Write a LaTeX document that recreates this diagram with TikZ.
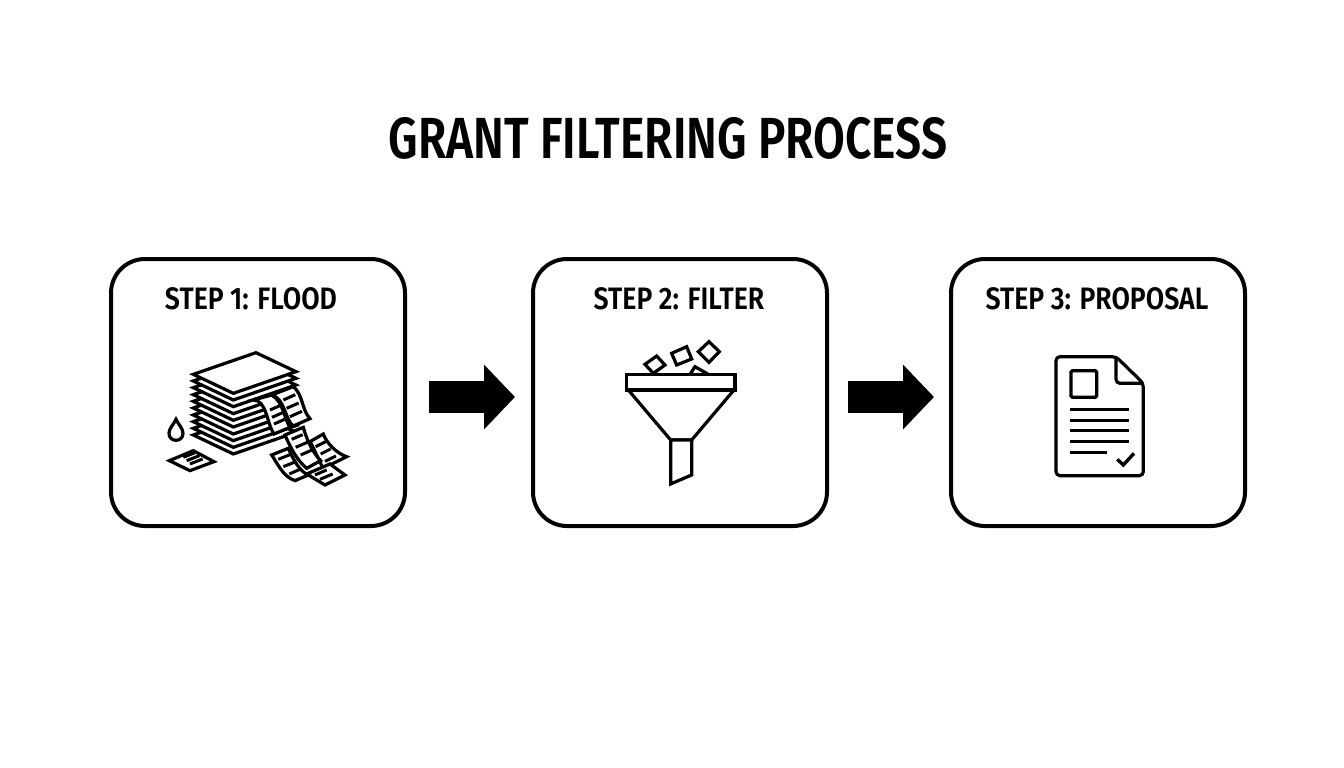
\documentclass[tikz,border=0pt]{standalone}
\usepackage{fontspec}
\setmainfont[FakeStretch=0.795]{Fira Sans SemiBold}
\newfontfamily\labelfont[FakeStretch=0.86]{Fira Sans SemiBold}
\usetikzlibrary{arrows.meta}
\tikzset{
  stepcard/.style={draw=black,line width=4pt,fill=white,rounded corners=34pt,minimum width=294pt,minimum height=267pt,inner sep=0pt,outer sep=2pt},
  steplabel/.style={font=\labelfont\fontsize{31}{31}\selectfont,text=black,inner sep=0pt,anchor=center},
  flowarrow/.style={draw=black,line width=32pt,-{Triangle[length=31pt,width=63pt]}},
  icon/.style={draw=black,line width=3.2pt,line join=miter,fill=white},
  ink/.style={draw=black,line width=3pt,line cap=butt},
}
\begin{document}
\begin{tikzpicture}[x=1pt,y=-1pt]
\useasboundingbox[fill=white] (0,0) rectangle (1344,768);
\node[font=\fontsize{58}{58}\selectfont,text=black,inner sep=0pt] (title) at (668,138) {GRANT FILTERING PROCESS};
\node[stepcard] (s1) at (258,392.5) {};
\node[stepcard] (s2) at (680,392.5) {};
\node[stepcard] (s3) at (1098,392.5) {};
\node[steplabel] (l1) at (251,299) {STEP 1: FLOOD};
\node[steplabel] (l2) at (679,299) {STEP 2: FILTER};
\node[steplabel] (l3) at (1097,299) {STEP 3: PROPOSAL};
\draw[flowarrow,shorten <=22pt,shorten >=16pt] ([yshift=-4.5pt]s1.east) -- ([yshift=-4.5pt]s2.west);
\draw[flowarrow,shorten <=19pt,shorten >=15pt] ([yshift=-4.5pt]s2.east) -- ([yshift=-4.5pt]s3.west);
% Flood icon
\begin{scope}[shift={(150,340)},x=0.3333pt,y=-0.3333pt]
 \foreach \d in {182,162,142,122,101,81,61,40,20}{
   \draw[icon] (130,103+\d) -- (318,38+\d) -- (438,95+\d) -- (250,160+\d) -- cycle;
 }
 \draw[icon] (130,103) -- (318,38) -- (438,95) -- (250,160) -- cycle;
 % curled sheets
 \draw[icon] (310,180) .. controls (350,180) and (350,250) .. (372,282) -- (420,262) .. controls (400,230) and (400,185) .. (365,165) -- cycle;
 \draw[ink] (360,210)--(392,196) (366,232)--(398,218) (372,252)--(404,238);
 \draw[icon] (365,165) .. controls (405,175) and (405,240) .. (430,258) -- (480,236) .. controls (455,210) and (460,165) .. (430,140) -- cycle;
 \draw[ink] (400,180)--(436,164) (410,205)--(446,189) (420,230)--(456,214) ;
 % lower sheets
 \draw[icon] (480,305) -- (520,282) .. controls (530,310) and (560,340) .. (590,350) -- (520,385) .. controls (505,360) and (495,330) .. (480,305) -- cycle;
 \draw[ink] (497,320)--(527,305) (512,342)--(542,327) (525,364)--(558,348);
 \draw[icon] (470,402) -- (540,372) -- (585,405) -- (525,435) -- cycle;
 \draw[ink] (495,405)--(530,390) (510,418)--(548,402);
 \draw[icon] (365,345) -- (415,325) .. controls (430,360) and (450,395) .. (475,405) -- (435,422) .. controls (400,410) and (385,375) .. (365,345) -- cycle;
 \draw[ink] (385,358)--(425,342) (400,380)--(440,364) (418,402)--(450,388);
 \draw[icon] (405,285) -- (460,262) .. controls (470,300) and (490,340) .. (512,362) -- (470,385) .. controls (440,360) and (420,320) .. (405,285) -- cycle;
 \draw[ink] (425,298)--(458,284) (437,322)--(472,307) (452,345)--(486,330);
 % loose sheet and drop
 \draw[icon] (58,362) -- (130,332) -- (192,365) -- (120,392) -- cycle;
 \draw[ink] (100,352)--(135,338) (110,362)--(148,347) (120,372)--(158,357);
 \draw[icon] (78,238) .. controls (68,258) and (57,265) .. (57,280) .. controls (57,308) and (99,308) .. (99,280) .. controls (99,265) and (88,258) .. (78,238) -- cycle;
\end{scope}
% Filter icon
\begin{scope}[shift={(610,330)},x=0.3333pt,y=-0.3333pt]
 \draw[icon] (105,103) -- (140,78) -- (165,105) -- (130,130) -- cycle;
 \draw[icon] (185,70) -- (230,50) -- (245,87) -- (200,105) -- cycle;
 \draw[icon] (265,65) -- (297,35) -- (328,65) -- (297,97) -- cycle;
 \draw[icon] (240,133) -- (255,110) -- (295,133);
 \draw[icon] (55,180) -- (182,330) -- (245,330) -- (372,180) -- cycle;
 \draw[icon] (50,133) rectangle (375,180);
 \draw[icon] (182,330) -- (182,462) -- (245,435) -- (245,330) -- cycle;
\end{scope}
% Document icon
\begin{scope}[shift={(1040,345)},x=0.3333pt,y=-0.3333pt]
 \draw[icon,rounded corners=4pt] (48,35) -- (228,35) -- (310,115) -- (310,392) -- (48,392) -- cycle;
 \draw[icon,fill=none,rounded corners=4pt] (228,35) -- (228,115) -- (310,115);
 \draw[icon,rounded corners=1.5pt] (93,77) rectangle (170,157);
 \draw[ink] (90,193)--(267,193) (90,226)--(267,226) (90,258)--(267,258) (90,290)--(267,290) (90,322)--(200,322);
 \draw[ink,line width=3.4pt] (232,343)--(250,360)--(282,325);
\end{scope}
\end{tikzpicture}
\end{document}
